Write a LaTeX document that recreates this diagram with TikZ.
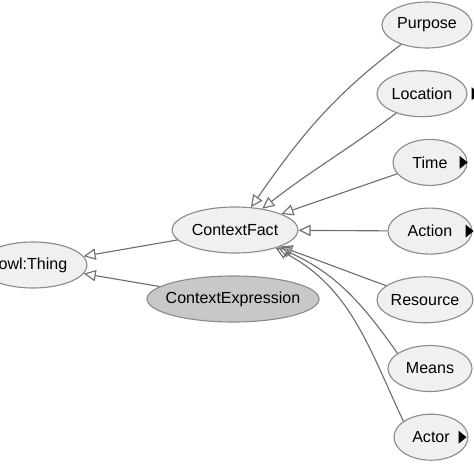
\documentclass[tikz,border=0pt]{standalone}
\usepackage{fontspec}
\setmainfont{Liberation Sans}
\usepackage{tikz}
\usetikzlibrary{shapes.geometric,arrows.meta,positioning}
\definecolor{nodefill}{HTML}{F0F0F0}
\definecolor{nodeline}{HTML}{8C8C8C}
\definecolor{exprfill}{HTML}{C8C8C8}
\definecolor{edgegray}{HTML}{6E6E6E}
\tikzset
{
    concept/.style = {ellipse, draw=nodeline, fill=nodefill, line width=0.8pt, minimum height=1.15cm, inner xsep=-10pt, font=\fontsize{11.4}{13}\selectfont},
    isa/.style     = {draw=edgegray, line width=0.8pt, -{Triangle[open, length=0.3cm, width=0.28cm]}},
    more/.style    = {fill=black}
}

\begin{document}
\begin{tikzpicture}[x=0.025cm, y=-0.025cm]
\useasboundingbox (0,0) rectangle (474,474);
\newcommand\yStep{68.7}
\newcommand\moreMark[1]{\fill[more] (#1) -- ++(0,-6.5) -- ++(8,6.5) -- ++(-8,6.5) -- cycle;}
\node(thing) [concept, minimum width=2.7cm] at (33, 265) {owl:Thing};
\node(fact) [concept, minimum width=3.15cm] at (235, 230) {ContextFact};
\node(expr) [concept, minimum width=4.3cm, fill=exprfill] at (233, 299) {ContextExpression};
\node(purpose) [concept, minimum width=2.25cm] at (427, 25) {Purpose};
\node(location) [concept, minimum width=2.25cm] at ([shift=({-5,\yStep})]purpose) {Location};
\node(time) [concept, minimum width=1.85cm] at ([shift=({8,\yStep})]location) {Time};
\node(action) [concept, minimum width=2.1cm] at ([shift=({0,\yStep})]time) {Action};
\node(resource) [concept, minimum width=2.4cm] at ([shift=({-5,\yStep})]action) {Resource};
\node(means) [concept, minimum width=2.1cm] at ([shift=({5,\yStep})]resource) {Means};
\node(actor) [concept, minimum width=1.85cm] at ([shift=({1,\yStep})]means) {Actor};
\moreMark{[shift=({4,0})]location.east}
\moreMark{[shift=({-8,0})]time.east}
\moreMark{[shift=({-7,0})]action.east}
\moreMark{[shift=({-10,0})]actor.east}
\draw[isa] (fact) -- (thing);
\draw[isa] (expr) -- (thing);
\draw[isa] (purpose) to[out=217, in=55] (fact);
\draw[isa] (location) to[out=217, in=38] (fact);
\draw[isa] (time) -- (fact);
\draw[isa] (action) -- (fact);
\draw[isa] (resource) to[out=160, in=-20] (fact);
\draw[isa] (means.155) to[out=125, in=-24] (fact.-22);
\draw[isa] (actor.150) to[out=115, in=-28] (fact.-24);
\end{tikzpicture}
\end{document}
